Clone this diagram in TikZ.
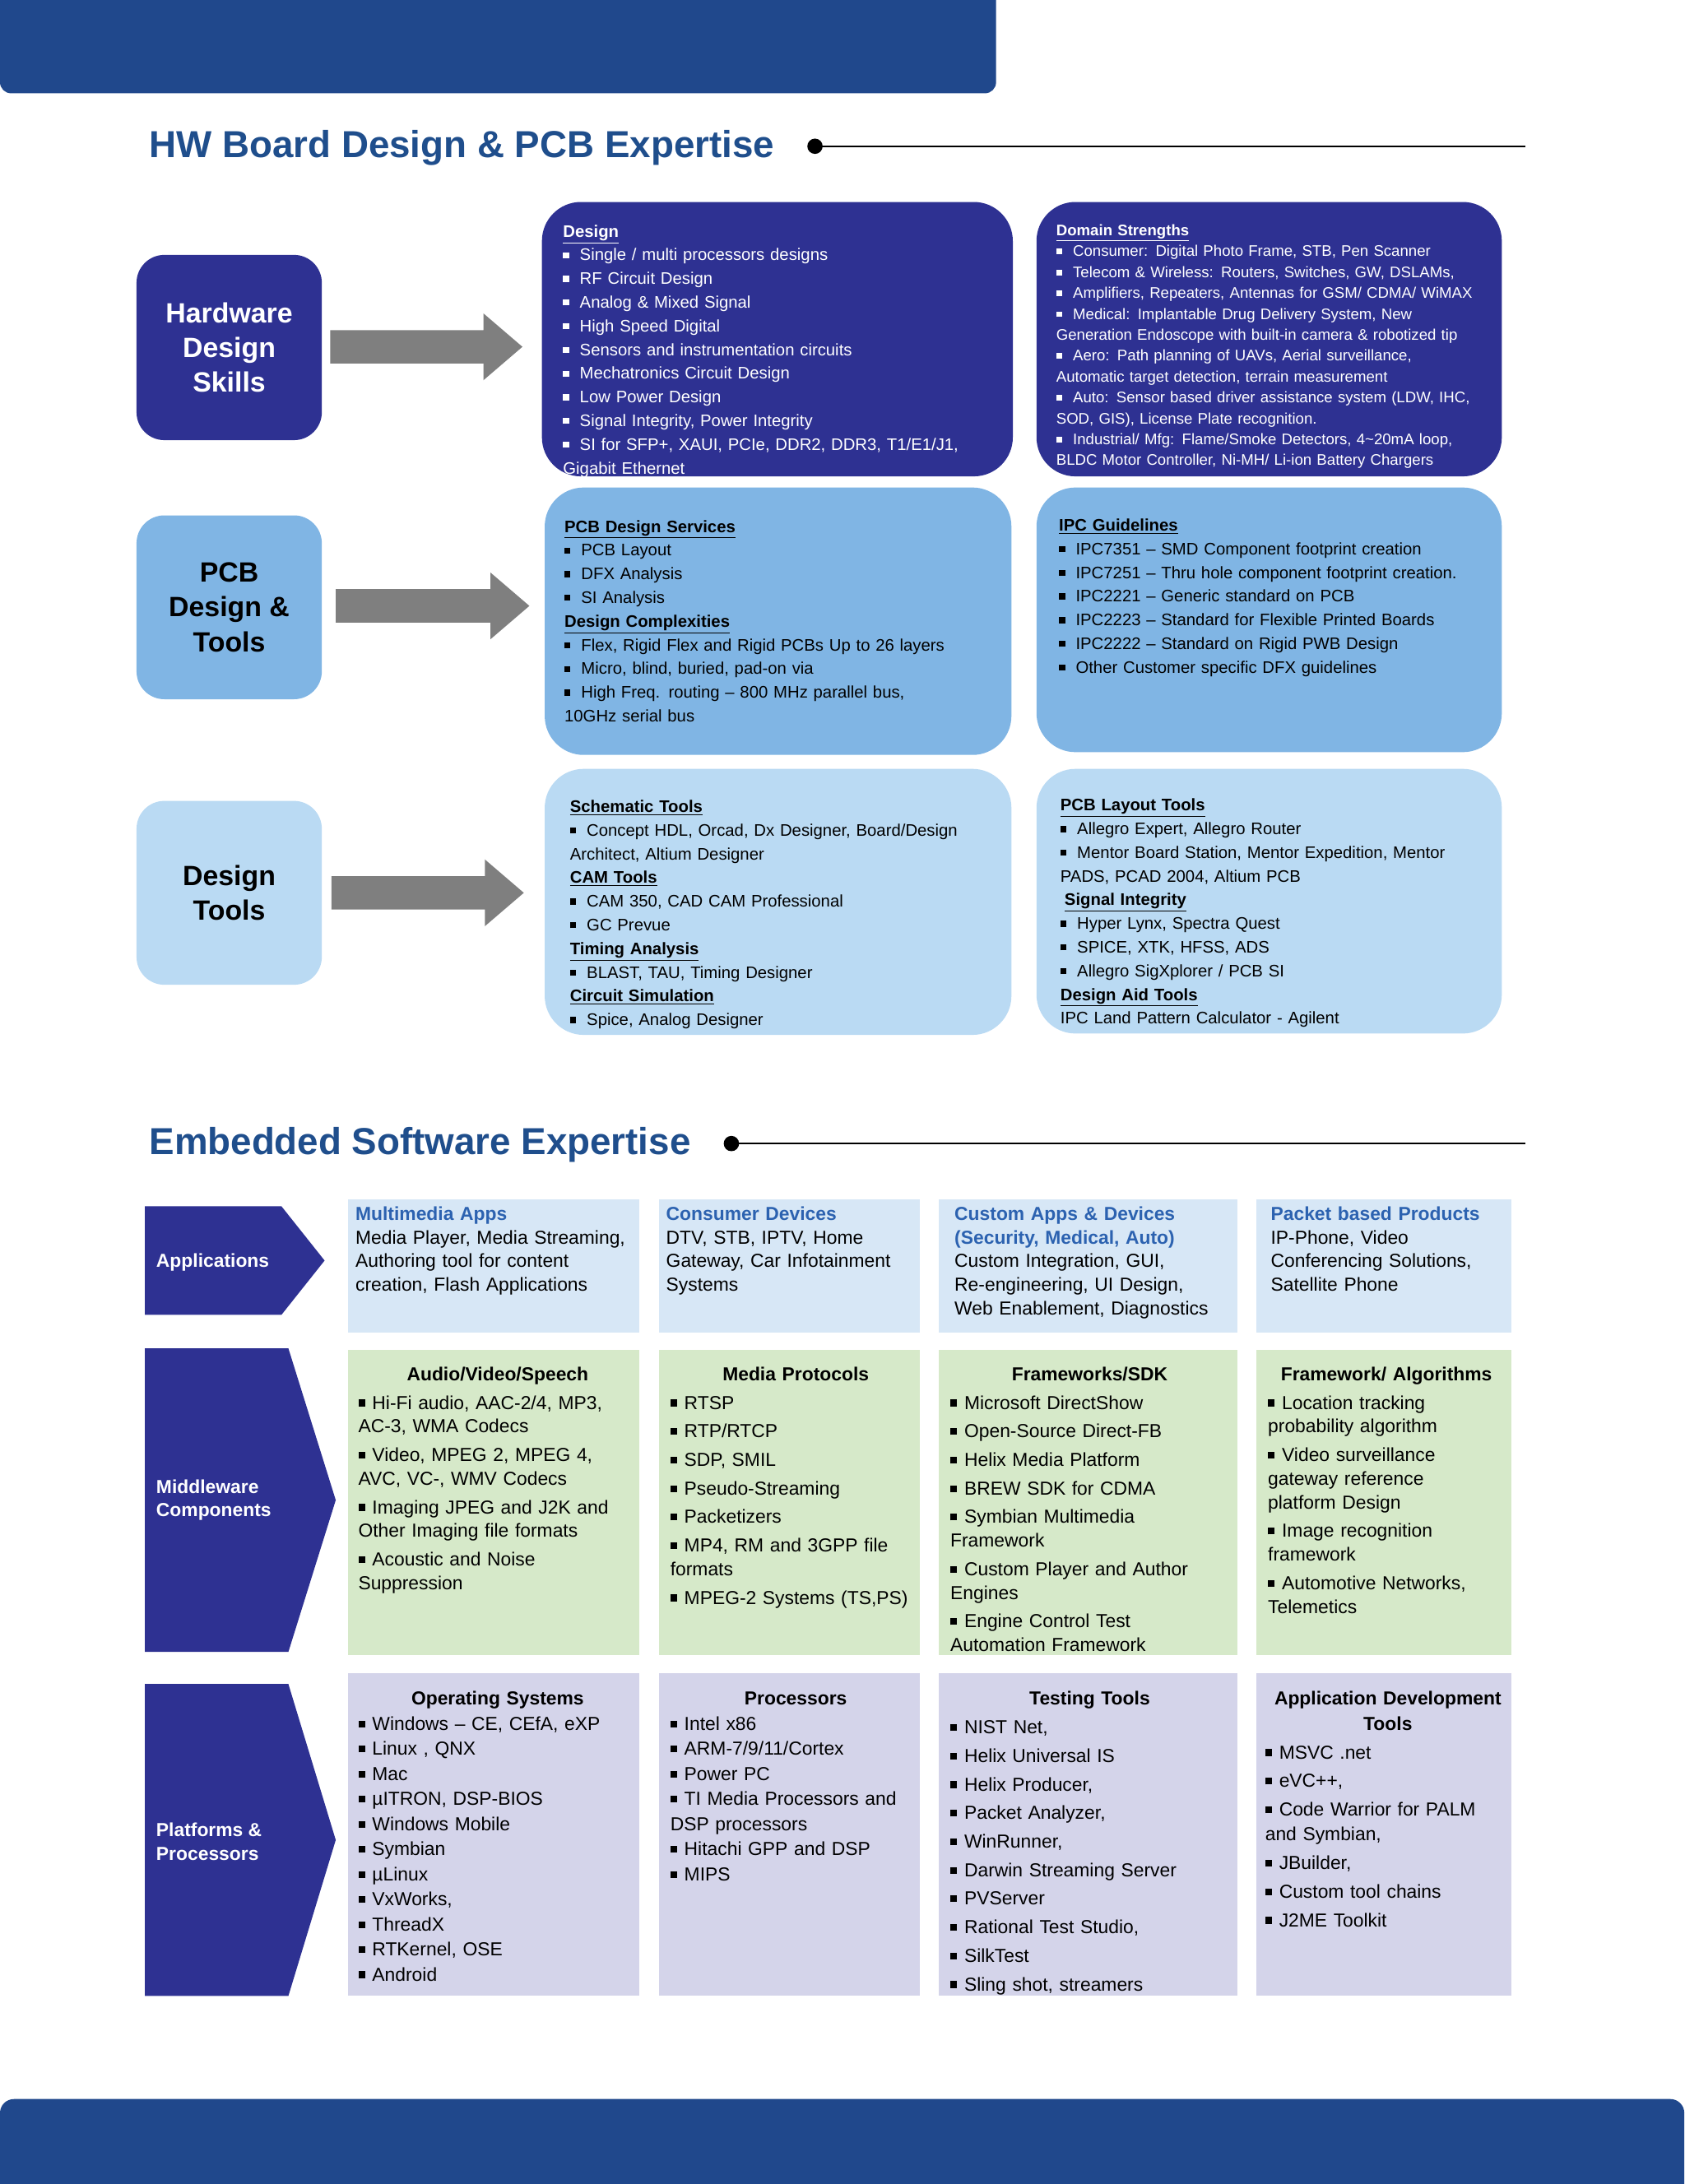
\documentclass[tikz,border=0pt]{standalone}
\usepackage{fontspec}
\setmainfont{Liberation Sans}
\definecolor{navy}{HTML}{2E3192}
\definecolor{barblue}{HTML}{20488C}
\definecolor{headblue}{HTML}{1F4E8C}
\definecolor{midblue}{HTML}{80B5E4}
\definecolor{litblue}{HTML}{BADAF3}
\definecolor{rowa}{HTML}{D7E7F6}
\definecolor{rowb}{HTML}{D6E9C9}
\definecolor{rowc}{HTML}{D4D4EA}
\definecolor{ttlblue}{HTML}{2C62B0}
\definecolor{arrgray}{HTML}{7F7F7F}
\newcommand\sq{\rule[0.15em]{0.36em}{0.36em}}
\newcommand\itm[1]{\par\hangindent=12pt\hangafter=1\noindent\makebox[12pt][l]{\sq}#1}
\newcommand\itmb[1]{\par\hangindent=10pt\hangafter=1\noindent\makebox[10pt][l]{\sq}#1}
\newcommand\hd[1]{\par\noindent\underline{\textbf{#1}}}
\newcommand\ctr[1]{\par\noindent\makebox[\linewidth][c]{\textbf{#1}}}
\tikzset{
  bigbox/.style={rounded corners=28pt},
  txt/.style={anchor=north west,inner sep=0pt,align=left},
  hwf/.style={font=\fontsize{12}{17}\selectfont},
  domf/.style={font=\fontsize{11}{15}\selectfont},
  lbl/.style={font=\fontsize{20}{25}\selectfont\bfseries,align=center},
  heading/.style={anchor=west,inner sep=0pt,font=\fontsize{27}{30}\selectfont\bfseries,text=headblue},
  ef2/.style={font=\fontsize{13.5}{17}\selectfont,txt},
  ef3/.style={font=\fontsize{13.5}{18}\selectfont,txt},
  elbl/.style={anchor=west,text=white,font=\fontsize{13.5}{17}\selectfont\bfseries,align=left,inner sep=0pt},
}
\begin{document}
\begin{tikzpicture}[x=1pt,y=-1pt]
\useasboundingbox (0,0) rectangle (1209,1568);
% bars
\fill[barblue,rounded corners=8pt] (0,-20) rectangle (715,67);
\fill[barblue,rounded corners=10pt] (0,1507) rectangle (1209,1600);
% heading 1
\node[heading] (h1) at (107,106) {HW Board Design \& PCB Expertise};
\fill (585,105) circle (5.5pt);
\coordinate (h1e) at (1095,105);
\draw[line width=1.3pt] (585,105) -- (h1e);
% left boxes
\node[fill=navy,rounded corners=20pt,minimum width=133pt,minimum height=133pt,text=white,lbl] (hw) at (164.5,249.5) {Hardware\\Design\\Skills};
\node[fill=midblue,rounded corners=20pt,minimum width=133pt,minimum height=132pt,text=black,lbl] (pcb) at (164.5,436) {PCB\\Design \&\\Tools};
\node[fill=litblue,rounded corners=20pt,minimum width=133pt,minimum height=132pt,text=black,lbl] (dt) at (164.5,641) {Design\\Tools};
% arrows
\foreach \a/\b/\c/\y in {237/347/375/249, 241/352/380/435, 238/348/376/641}{
  \fill[arrgray] (\a,\y-12) -- (\b,\y-12) -- (\b,\y-24) -- (\c,\y) -- (\b,\y+24) -- (\b,\y+12) -- (\a,\y+12) -- cycle;
}
% right boxes
\fill[navy,bigbox] (389,145) rectangle (727,342);
\fill[navy,bigbox] (744,145) rectangle (1078,342);
\fill[midblue,bigbox] (391,350) rectangle (726,542);
\fill[midblue,bigbox] (744,350) rectangle (1078,540);
\fill[litblue,bigbox] (391,552) rectangle (726,743);
\fill[litblue,bigbox] (744,552) rectangle (1078,742);

\node[txt,hwf,text=white,text width=320pt] (t1) at (404,153) {\hd{Design}
\itm{Single / multi processors designs}
\itm{RF Circuit Design}
\itm{Analog \& Mixed Signal}
\itm{High Speed Digital}
\itm{Sensors and instrumentation circuits}
\itm{Mechatronics Circuit Design}
\itm{Low Power Design}
\itm{Signal Integrity, Power Integrity}
\itm{SI for SFP+, XAUI, PCIe, DDR2, DDR3, T1/E1/J1,\\Gigabit Ethernet}};

\node[txt,domf,text=white,text width=325pt] (t2) at (758,154) {\hd{Domain Strengths}
\itm{Consumer: Digital Photo Frame, STB, Pen Scanner}
\itm{Telecom \& Wireless: Routers, Switches, GW, DSLAMs,}
\itm{Amplifiers, Repeaters, Antennas for GSM/ CDMA/ WiMAX}
\itm{Medical: Implantable Drug Delivery System, New\\Generation Endoscope with built-in camera \& robotized tip}
\itm{Aero: Path planning of UAVs, Aerial surveillance,\\Automatic target detection, terrain measurement}
\itm{Auto: Sensor based driver assistance system (LDW, IHC,\\SOD, GIS), License Plate recognition.}
\itm{Industrial/ Mfg: Flame/Smoke Detectors, 4\textasciitilde20mA loop,\\BLDC Motor Controller, Ni-MH/ Li-ion Battery Chargers}};

\node[txt,hwf,text width=320pt] (t3) at (405,365) {\hd{PCB Design Services}
\itm{PCB Layout}
\itm{DFX Analysis}
\itm{SI Analysis}
\hd{Design Complexities}
\itm{Flex, Rigid Flex and Rigid PCBs Up to 26 layers}
\itm{Micro, blind, buried, pad-on via}
\itm{High Freq. routing -- 800 MHz parallel bus,\\10GHz serial bus}};

\node[txt,hwf,text width=320pt] (t4) at (760,364) {\hd{IPC Guidelines}
\itm{IPC7351 -- SMD Component footprint creation}
\itm{IPC7251 -- Thru hole component footprint creation.}
\itm{IPC2221 -- Generic standard on PCB}
\itm{IPC2223 -- Standard for Flexible Printed Boards}
\itm{IPC2222 -- Standard on Rigid PWB Design}
\itm{Other Customer specific DFX guidelines}};

\node[txt,hwf,text width=320pt] (t5) at (409,566) {\hd{Schematic Tools}
\itm{Concept HDL, Orcad, Dx Designer, Board/Design\\Architect, Altium Designer}
\hd{CAM Tools}
\itm{CAM 350,\ CAD CAM\ Professional}
\itm{GC Prevue}
\hd{Timing Analysis}
\itm{BLAST, TAU, Timing Designer}
\hd{Circuit Simulation}
\itm{Spice, Analog Designer}};

\node[txt,hwf,text width=310pt] (t6) at (761,565) {\hd{PCB Layout Tools}
\itm{Allegro Expert, Allegro Router}
\itm{Mentor Board Station, Mentor Expedition, Mentor\\PADS, PCAD 2004, Altium PCB}
\par\hspace*{3pt}\underline{\textbf{Signal Integrity}}
\itm{Hyper Lynx, Spectra Quest}
\itm{SPICE, XTK, HFSS, ADS}
\itm{Allegro SigXplorer / PCB SI}
\hd{Design Aid Tools}
\par\noindent IPC Land Pattern Calculator - Agilent};

% heading 2
\node[heading] (h2) at (107,822) {Embedded Software Expertise};
\fill (525,821) circle (5.5pt);
\coordinate (h2e) at (1095,821);
\draw[line width=1.3pt] (525,821) -- (h2e);

% chevrons
\fill[navy] (104,866) -- (202,866) -- (233,905) -- (202,944) -- (104,944) -- cycle;
\fill[navy] (104,968) -- (207,968) -- (241,1077) -- (207,1186) -- (104,1186) -- cycle;
\fill[navy] (104,1209) -- (207,1209) -- (241,1321) -- (207,1433) -- (104,1433) -- cycle;
\node[elbl] (l1) at (112,906) {Applications};
\node[elbl] (l2) at (112,1077) {Middleware\\Components};
\node[elbl] (l3) at (112,1322) {Platforms \&\\Processors};

% grid
\foreach \xa/\xb in {250/459, 473/660, 674/888, 902/1085}{
  \fill[rowa] (\xa,861) rectangle (\xb,957);
  \fill[rowb] (\xa,969) rectangle (\xb,1188);
  \fill[rowc] (\xa,1201) rectangle (\xb,1433);
}
% row 1
\node[ef2,text width=205pt] (a1) at (255,866) {{\color{ttlblue}\textbf{Multimedia Apps}}\\Media Player, Media Streaming,\\Authoring tool for content\\creation, Flash Applications};
\node[ef2,text width=185pt] (a2) at (478,866) {{\color{ttlblue}\textbf{Consumer Devices}}\\DTV, STB, IPTV, Home\\Gateway, Car Infotainment\\Systems};
\node[ef2,text width=210pt] (a3) at (685,866) {{\color{ttlblue}\textbf{Custom Apps \& Devices\\(Security, Medical, Auto)}}\\Custom Integration, GUI,\\Re-engineering, UI Design,\\Web Enablement, Diagnostics};
\node[ef2,text width=180pt] (a4) at (912,866) {{\color{ttlblue}\textbf{Packet based Products}}\\IP-Phone, Video\\Conferencing Solutions,\\Satellite Phone};

% row 2
\node[ef2,text width=200pt,text width=200pt] (b1) at (257,974) {\ctr{Audio/Video/Speech}\parskip=3.5pt
\itmb{Hi-Fi audio, AAC-2/4, MP3,\\AC-3, WMA Codecs}
\itmb{Video, MPEG 2, MPEG 4,\\AVC, VC-, WMV Codecs}
\itmb{Imaging JPEG and J2K and\\Other Imaging file formats}
\itmb{Acoustic and Noise\\Suppression}};
\node[ef2,text width=180pt] (b2) at (481,974) {\ctr{Media Protocols}\parskip=3.5pt
\itmb{RTSP}
\itmb{RTP/RTCP}
\itmb{SDP, SMIL}
\itmb{Pseudo-Streaming}
\itmb{Packetizers}
\itmb{MP4, RM and 3GPP file\\formats}
\itmb{MPEG-2 Systems (TS,PS)}};
\node[ef2,text width=200pt] (b3) at (682,974) {\ctr{Frameworks/SDK}\parskip=3.5pt
\itmb{Microsoft DirectShow}
\itmb{Open-Source Direct-FB}
\itmb{Helix Media Platform}
\itmb{BREW SDK for CDMA}
\itmb{Symbian Multimedia\\Framework}
\itmb{Custom Player and Author\\Engines}
\itmb{Engine Control Test\\Automation Framework}};
\node[ef2,text width=170pt] (b4) at (910,974) {\ctr{Framework/ Algorithms}\parskip=3.5pt
\itmb{Location tracking\\probability algorithm}
\itmb{Video surveillance\\gateway reference\\platform Design}
\itmb{Image recognition\\framework}
\itmb{Automotive Networks,\\Telemetics}};

% row 3
\node[ef3,text width=200pt] (c1) at (257,1206) {\ctr{Operating Systems}
\itmb{Windows -- CE, CEfA, eXP}
\itmb{Linux , QNX}
\itmb{Mac}
\itmb{µITRON, DSP-BIOS}
\itmb{Windows Mobile}
\itmb{Symbian}
\itmb{µLinux}
\itmb{VxWorks,}
\itmb{ThreadX}
\itmb{RTKernel, OSE}
\itmb{Android}};
\node[ef3,text width=180pt] (c2) at (481,1206) {\ctr{Processors}
\itmb{Intel x86}
\itmb{ARM-7/9/11/Cortex}
\itmb{Power PC}
\itmb{TI Media Processors and\\DSP processors}
\itmb{Hitachi GPP and DSP}
\itmb{MIPS}};
\node[ef3,text width=200pt] (c3) at (682,1206) {\ctr{Testing Tools}\parskip=2.5pt
\itmb{NIST Net,}
\itmb{Helix Universal IS}
\itmb{Helix Producer,}
\itmb{Packet Analyzer,}
\itmb{WinRunner,}
\itmb{Darwin Streaming Server}
\itmb{PVServer}
\itmb{Rational Test Studio,}
\itmb{SilkTest}
\itmb{Sling shot, streamers}};
\node[ef3,text width=180pt] (c4) at (908,1206) {\par\noindent\makebox[176pt][c]{\textbf{Application Development}}\\\makebox[176pt][c]{\textbf{Tools}}\parskip=2.5pt
\itmb{MSVC .net}
\itmb{eVC++,}
\itmb{Code Warrior for PALM\\and Symbian,}
\itmb{JBuilder,}
\itmb{Custom tool chains}
\itmb{J2ME Toolkit}};
\end{tikzpicture}
\end{document}
